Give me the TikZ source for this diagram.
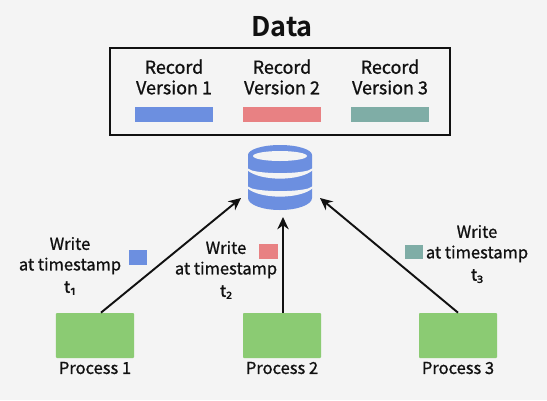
\documentclass[tikz,border=0pt]{standalone}
\usepackage{fontspec}
\setmainfont{Noto Sans CJK KR}[RawFeature={embolden=1.0}]
\newfontfamily\subfont{Noto Sans}[RawFeature={embolden=1.0}]
\newfontfamily\titlefont{Noto Sans CJK KR Bold}
\usepackage{tikz}
\usetikzlibrary{arrows.meta}
\definecolor{pagebg}{HTML}{F4F4F4}
\definecolor{inkblack}{HTML}{111111}
\definecolor{verblue}{HTML}{6C8FE0}
\definecolor{verred}{HTML}{E88183}
\definecolor{verteal}{HTML}{7FADA6}
\definecolor{procgreen}{HTML}{8BCB73}
\tikzset{
  lbl/.style={align=center,inner sep=0pt,text=inkblack,font=\fontsize{9.4}{11.7}\selectfont},
  verbar/.style={minimum width=44.4pt,minimum height=8.5pt,inner sep=0pt},
  tick/.style={minimum width=10.4pt,minimum height=8.5pt,inner sep=0pt},
  procbox/.style={fill=procgreen,rounded corners=0.5pt,minimum width=44.4pt,minimum height=25.6pt,inner sep=0pt},
  writearrow/.style={-{Stealth[length=7pt,width=6.5pt]},line width=1.1pt,draw=inkblack}
}
\begin{document}
\begin{tikzpicture}[x=0.02cm,y=-0.02cm]
  \fill[pagebg] (0,0) rectangle (547,400);
  \useasboundingbox (0,0) rectangle (547,400);
  \node[lbl,font=\fontsize{15.4}{16}\titlefont] (title) at (282,27) {Data};
  \node[draw=inkblack,line width=1.1pt,minimum width=193.6pt,minimum height=49.5pt,inner sep=0pt] (store) at (280.3,91.5) {};
  \foreach \n/\x/\c in {1/174/verblue,2/282/verred,3/390/verteal}{
    \node[lbl,font=\fontsize{10.2}{11.7}\selectfont] (rec\n) at (\x,77) {Record\\Version \n};
    \node[verbar,fill=\c] (bar\n) at (\x,114.5) {};
  }
  % database
  \fill[verblue] (248,155) arc[start angle=180,end angle=360,x radius=32,y radius=10]
    -- (312,198) arc[start angle=0,end angle=180,x radius=32,y radius=12] -- cycle;
  \fill[pagebg] (280,156) ellipse (27 and 5);
  \foreach \y in {0,18}{
    \fill[pagebg] (247,{168+\y}) -- (252,{170.5+\y}) .. controls (265,{174+\y}) and (295,{174+\y}) .. (308,{170.5+\y})
      -- (313,{168+\y}) -- (313,{170+\y}) .. controls (300,{181.5+\y}) and (260,{181.5+\y}) .. (247,{170+\y}) -- cycle;
  }
  \coordinate (dbleft) at (241,198);
  \coordinate (dbmid) at (283,217);
  \coordinate (dbright) at (320,198);
  \foreach \n/\x in {1/95,2/282,3/458}{
    \node[procbox] (proc\n) at (\x,335.5) {};
    \node[lbl] (name\n) at (\x,368) {Process \n};
  }
  \draw[writearrow] ([xshift=3.4pt]proc1.north) -- (dbleft);
  \draw[writearrow] (proc2.north -| dbmid) -- (dbmid);
  \draw[writearrow] (proc3.north) -- (dbright);
  \node[lbl] (write1) at (70,266) {Write\\at timestamp\\[1pt]t{\subfont ₁}};
  \node[lbl] (write2) at (226,270) {Write\\at timestamp\\[1pt]t{\subfont ₂}};
  \node[lbl] (write3) at (477,254) {Write\\at timestamp\\[1pt]t{\subfont ₃}};
  \node[tick,fill=verblue] (tick1) at (138,257.5) {};
  \node[tick,fill=verred] (tick2) at (268.5,251.5) {};
  \node[tick,fill=verteal] (tick3) at (414,252) {};
\end{tikzpicture}
\end{document}
